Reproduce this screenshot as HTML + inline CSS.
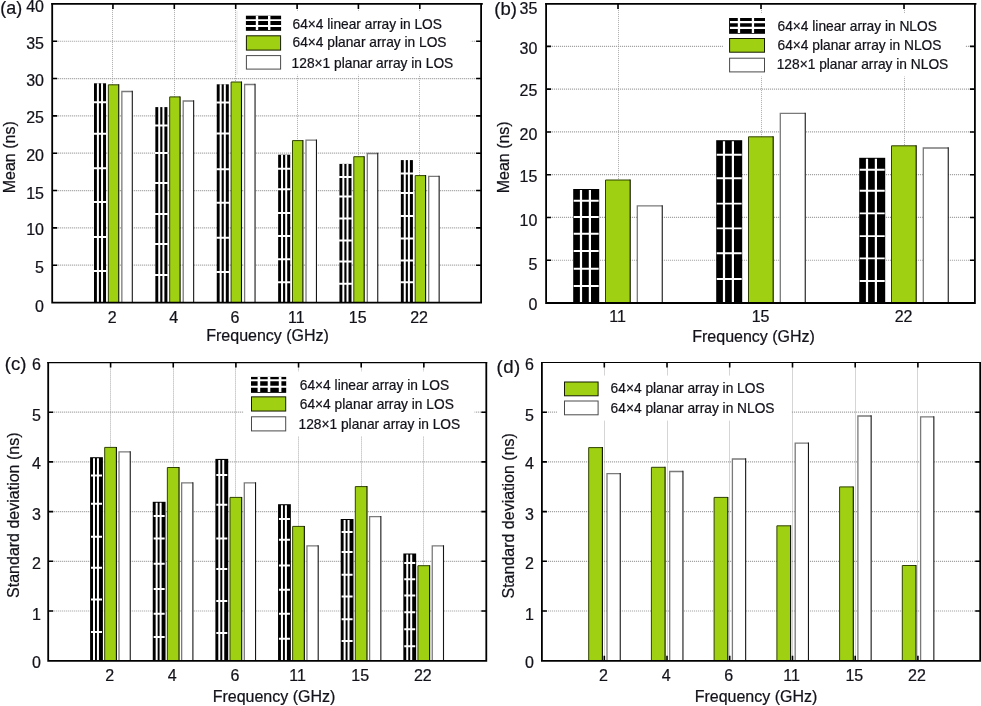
<!DOCTYPE html>
<html lang="en"><head><meta charset="utf-8"><title>Delay spread bar charts</title>
<style>html,body{margin:0;padding:0;background:#fff}svg{display:block}text{stroke:#12121a;stroke-width:.22px}</style>
</head><body>
<svg width="981" height="706" viewBox="0 0 981 706" font-family='"Liberation Sans", sans-serif' fill="#12121a">
<rect width="981" height="706" fill="#fff"/>
<path d="M112.5 3.9V302.6M174.5 3.9V302.6M235.5 3.9V302.6M297.5 3.9V302.6M358.5 3.9V302.6M419.5 3.9V302.6" stroke="#ababab" stroke-width="1" stroke-dasharray="1 1" fill="none"/>
<path d="M52.2 265.18H481.1M52.2 227.85H481.1M52.2 190.53H481.1M52.2 153.2H481.1M52.2 115.88H481.1M52.2 78.55H481.1M52.2 41.23H481.1" stroke="#999" stroke-width="1.2" stroke-dasharray="1 1" fill="none"/>
<path d="M52.2 265.18h5M481.1 265.18h-5M52.2 227.85h5M481.1 227.85h-5M52.2 190.53h5M481.1 190.53h-5M52.2 153.2h5M481.1 153.2h-5M52.2 115.88h5M481.1 115.88h-5M52.2 78.55h5M481.1 78.55h-5M52.2 41.23h5M481.1 41.23h-5M112.95 3.9v5M112.95 302.6v-5M174.3 3.9v5M174.3 302.6v-5M235.7 3.9v5M235.7 302.6v-5M297.1 3.9v5M297.1 302.6v-5M358.4 3.9v5M358.4 302.6v-5M419.8 3.9v5M419.8 302.6v-5" stroke="#000" stroke-width="1.6" fill="none"/>
<rect x="237" y="10.8" width="233.8" height="63.9" fill="#fff"/>
<path d="M237 10.8V74.7" stroke="#e6e6e6" stroke-width="1" fill="none"/>
<rect x="245.9" y="15.7" width="35.2" height="15.1" fill="#000"/>
<path d="M257 15.7V29.9M269.2 15.7V29.9" stroke="#fff" stroke-width="2.4" fill="none"/>
<path d="M245.3 20.1H281.7M245.3 26H281.7" stroke="#fff" stroke-width="1.9" fill="none"/>
<text x="292.5" y="28.9" font-size="13.75" text-anchor="start">64×4 linear array in LOS</text>
<rect x="246.4" y="35.8" width="34.2" height="14.3" fill="#9fd011" stroke="#151a00" stroke-width="1"/>
<text x="292.5" y="47.2" font-size="13.75" text-anchor="start">64×4 planar array in LOS</text>
<rect x="246.4" y="55.6" width="34.2" height="13.5" fill="#fff" stroke="#4a4a4a" stroke-width="1"/>
<text x="291.6" y="67.9" font-size="13.75" text-anchor="start">128×1 planar array in LOS</text>
<rect x="94" y="83.3" width="12.05" height="219.3" fill="#000"/>
<path d="M97.9 83.3V302.6M102.05 83.3V302.6" stroke="#fff" stroke-width="2" fill="none"/>
<path d="M93.6 102.2H106.45M93.6 133.8H106.45M93.6 168.3H106.45M93.6 202H106.45M93.6 237H106.45M93.6 271H106.45" stroke="#fff" stroke-width="2" fill="none"/>
<rect x="108.35" y="84.8" width="10.4" height="217.8" fill="#9fd011"/>
<path d="M108.35 302.6V84.8H118.75" fill="none" stroke="#2f4200" stroke-width="1"/>
<path d="M118.75 84.3V302.6" fill="none" stroke="#0c1000" stroke-width="1.1"/>
<rect x="121.85" y="91.5" width="10.45" height="211.1" fill="#fff"/>
<path d="M121.85 302.6V91.5H132.3" fill="none" stroke="#7a7a7a" stroke-width="1.3"/>
<path d="M132.3 90.85V302.6" fill="none" stroke="#161616" stroke-width="1.1"/>
<rect x="155.35" y="107.1" width="12.05" height="195.5" fill="#000"/>
<path d="M159.25 107.1V302.6M163.4 107.1V302.6" stroke="#fff" stroke-width="2" fill="none"/>
<path d="M154.95 125.5H167.8M154.95 153H167.8M154.95 183H167.8M154.95 214H167.8M154.95 244H167.8M154.95 275H167.8" stroke="#fff" stroke-width="2" fill="none"/>
<rect x="169.7" y="96.9" width="10.4" height="205.7" fill="#9fd011"/>
<path d="M169.7 302.6V96.9H180.1" fill="none" stroke="#2f4200" stroke-width="1"/>
<path d="M180.1 96.4V302.6" fill="none" stroke="#0c1000" stroke-width="1.1"/>
<rect x="183.2" y="101" width="10.45" height="201.6" fill="#fff"/>
<path d="M183.2 302.6V101H193.65" fill="none" stroke="#7a7a7a" stroke-width="1.3"/>
<path d="M193.65 100.35V302.6" fill="none" stroke="#161616" stroke-width="1.1"/>
<rect x="216.75" y="84.3" width="12.05" height="218.3" fill="#000"/>
<path d="M220.65 84.3V302.6M224.8 84.3V302.6" stroke="#fff" stroke-width="2" fill="none"/>
<path d="M216.35 102.6H229.2M216.35 133.6H229.2M216.35 169.3H229.2M216.35 202.7H229.2M216.35 237.7H229.2M216.35 272H229.2" stroke="#fff" stroke-width="2" fill="none"/>
<rect x="231.1" y="82" width="10.4" height="220.6" fill="#9fd011"/>
<path d="M231.1 302.6V82H241.5" fill="none" stroke="#2f4200" stroke-width="1"/>
<path d="M241.5 81.5V302.6" fill="none" stroke="#0c1000" stroke-width="1.1"/>
<rect x="244.6" y="84.5" width="10.45" height="218.1" fill="#fff"/>
<path d="M244.6 302.6V84.5H255.05" fill="none" stroke="#7a7a7a" stroke-width="1.3"/>
<path d="M255.05 83.85V302.6" fill="none" stroke="#161616" stroke-width="1.1"/>
<rect x="278.15" y="154.7" width="12.05" height="147.9" fill="#000"/>
<path d="M282.05 154.7V302.6M286.2 154.7V302.6" stroke="#fff" stroke-width="2" fill="none"/>
<path d="M277.75 168.8H290.6M277.75 189.2H290.6M277.75 212.9H290.6M277.75 235.9H290.6M277.75 259.3H290.6M277.75 282.3H290.6" stroke="#fff" stroke-width="2" fill="none"/>
<rect x="292.5" y="140.6" width="10.4" height="162" fill="#9fd011"/>
<path d="M292.5 302.6V140.6H302.9" fill="none" stroke="#2f4200" stroke-width="1"/>
<path d="M302.9 140.1V302.6" fill="none" stroke="#0c1000" stroke-width="1.1"/>
<rect x="306" y="140.2" width="10.45" height="162.4" fill="#fff"/>
<path d="M306 302.6V140.2H316.45" fill="none" stroke="#7a7a7a" stroke-width="1.3"/>
<path d="M316.45 139.55V302.6" fill="none" stroke="#161616" stroke-width="1.1"/>
<rect x="339.45" y="163.9" width="12.05" height="138.7" fill="#000"/>
<path d="M343.35 163.9V302.6M347.5 163.9V302.6" stroke="#fff" stroke-width="2" fill="none"/>
<path d="M339.05 177H351.9M339.05 196.5H351.9M339.05 218.6H351.9M339.05 240.6H351.9M339.05 261.5H351.9M339.05 283.7H351.9" stroke="#fff" stroke-width="2" fill="none"/>
<rect x="353.8" y="156.7" width="10.4" height="145.9" fill="#9fd011"/>
<path d="M353.8 302.6V156.7H364.2" fill="none" stroke="#2f4200" stroke-width="1"/>
<path d="M364.2 156.2V302.6" fill="none" stroke="#0c1000" stroke-width="1.1"/>
<rect x="367.3" y="153.5" width="10.45" height="149.1" fill="#fff"/>
<path d="M367.3 302.6V153.5H377.75" fill="none" stroke="#7a7a7a" stroke-width="1.3"/>
<path d="M377.75 152.85V302.6" fill="none" stroke="#161616" stroke-width="1.1"/>
<rect x="400.85" y="160.1" width="12.05" height="142.5" fill="#000"/>
<path d="M404.75 160.1V302.6M408.9 160.1V302.6" stroke="#fff" stroke-width="2" fill="none"/>
<path d="M400.45 173.4H413.3M400.45 193H413.3M400.45 216H413.3M400.45 238.4H413.3M400.45 260.6H413.3M400.45 282.3H413.3" stroke="#fff" stroke-width="2" fill="none"/>
<rect x="415.2" y="175.6" width="10.4" height="127" fill="#9fd011"/>
<path d="M415.2 302.6V175.6H425.6" fill="none" stroke="#2f4200" stroke-width="1"/>
<path d="M425.6 175.1V302.6" fill="none" stroke="#0c1000" stroke-width="1.1"/>
<rect x="428.7" y="176.4" width="10.45" height="126.2" fill="#fff"/>
<path d="M428.7 302.6V176.4H439.15" fill="none" stroke="#7a7a7a" stroke-width="1.3"/>
<path d="M439.15 175.75V302.6" fill="none" stroke="#161616" stroke-width="1.1"/>
<path d="M52.2 3V302.6H481.1V3" fill="none" stroke="#000" stroke-width="1.8" stroke-linejoin="miter"/>
<path d="M51.3 3.9H482.8" fill="none" stroke="#000" stroke-width="1.8"/>
<text x="44" y="312" font-size="16" text-anchor="end">0</text>
<text x="44" y="272.8" font-size="16" text-anchor="end">5</text>
<text x="44" y="234.9" font-size="16" text-anchor="end">10</text>
<text x="44" y="199.2" font-size="16" text-anchor="end">15</text>
<text x="44" y="160.8" font-size="16" text-anchor="end">20</text>
<text x="44" y="123.1" font-size="16" text-anchor="end">25</text>
<text x="44" y="86.2" font-size="16" text-anchor="end">30</text>
<text x="44" y="49" font-size="16" text-anchor="end">35</text>
<text x="44" y="12.1" font-size="16" text-anchor="end">40</text>
<text x="112.25" y="323.1" font-size="16" text-anchor="middle">2</text>
<text x="173.6" y="323.1" font-size="16" text-anchor="middle">4</text>
<text x="235" y="323.1" font-size="16" text-anchor="middle">6</text>
<text x="296.4" y="323.1" font-size="16" text-anchor="middle">11</text>
<text x="357.7" y="323.1" font-size="16" text-anchor="middle">15</text>
<text x="419.1" y="323.1" font-size="16" text-anchor="middle">22</text>
<text x="267.6" y="341.4" font-size="16" text-anchor="middle">Frequency (GHz)</text>
<text x="14.8" y="157.3" font-size="16" text-anchor="middle" transform="rotate(-90 14.8 157.3)">Mean (ns)</text>
<text x="0.3" y="13.9" font-size="17.9" text-anchor="start">(a)</text>
<path d="M618.5 3.9V303M761.5 3.9V303M904.5 3.9V303" stroke="#ababab" stroke-width="1" stroke-dasharray="1 1" fill="none"/>
<path d="M546.1 260.24H974.9M546.1 217.47H974.9M546.1 174.7H974.9M546.1 131.94H974.9M546.1 89.17H974.9M546.1 46.41H974.9" stroke="#999" stroke-width="1.2" stroke-dasharray="1 1" fill="none"/>
<path d="M546.1 260.24h5M974.9 260.24h-5M546.1 217.47h5M974.9 217.47h-5M546.1 174.7h5M974.9 174.7h-5M546.1 131.94h5M974.9 131.94h-5M546.1 89.17h5M974.9 89.17h-5M546.1 46.41h5M974.9 46.41h-5M618 3.9v5M618 303v-5M761 3.9v5M761 303v-5M904 3.9v5M904 303v-5" stroke="#000" stroke-width="1.6" fill="none"/>
<rect x="723" y="13.4" width="242" height="63.1" fill="#fff"/>
<rect x="729.1" y="18" width="35.9" height="15.8" fill="#000"/>
<path d="M738.95 18V32.9M752.95 18V32.9" stroke="#fff" stroke-width="2.3" fill="none"/>
<path d="M730 22.05H765M730 27.9H765" stroke="#fff" stroke-width="2.3" fill="none"/>
<text x="777.5" y="30.9" font-size="13.75" text-anchor="start">64×4 linear array in NLOS</text>
<rect x="729.6" y="38.5" width="34.9" height="13.7" fill="#9fd011" stroke="#151a00" stroke-width="1"/>
<text x="777.5" y="50" font-size="13.75" text-anchor="start">64×4 planar array in NLOS</text>
<rect x="729.6" y="58.2" width="34.9" height="13.7" fill="#fff" stroke="#4a4a4a" stroke-width="1"/>
<text x="776.7" y="68.9" font-size="13.75" text-anchor="start">128×1 planar array in NLOS</text>
<rect x="573.2" y="189" width="26" height="114" fill="#000"/>
<path d="M581 190V303M589.9 190V303" stroke="#fff" stroke-width="2.2" fill="none"/>
<path d="M573.7 200.7H598.7M573.7 217H598.7M573.7 233.8H598.7M573.7 251H598.7M573.7 268.7H598.7M573.7 286H598.7" stroke="#fff" stroke-width="1.9" fill="none"/>
<rect x="605.5" y="180" width="24.7" height="123" fill="#9fd011"/>
<path d="M605.5 303V180H630.2" fill="none" stroke="#2f4200" stroke-width="1"/>
<path d="M630.2 179.5V303" fill="none" stroke="#0c1000" stroke-width="1.1"/>
<rect x="637.3" y="205.8" width="24.95" height="97.2" fill="#fff"/>
<path d="M637.3 303V205.8H662.25" fill="none" stroke="#7a7a7a" stroke-width="1.3"/>
<path d="M662.25 205.15V303" fill="none" stroke="#161616" stroke-width="1.1"/>
<rect x="716.2" y="140.2" width="26" height="162.8" fill="#000"/>
<path d="M724 141.2V303M732.9 141.2V303" stroke="#fff" stroke-width="2.2" fill="none"/>
<path d="M716.7 154.8H741.7M716.7 178.3H741.7M716.7 203.6H741.7M716.7 228.4H741.7M716.7 253.3H741.7M716.7 279H741.7" stroke="#fff" stroke-width="1.9" fill="none"/>
<rect x="748.5" y="136.8" width="24.7" height="166.2" fill="#9fd011"/>
<path d="M748.5 303V136.8H773.2" fill="none" stroke="#2f4200" stroke-width="1"/>
<path d="M773.2 136.3V303" fill="none" stroke="#0c1000" stroke-width="1.1"/>
<rect x="780.3" y="113.3" width="24.95" height="189.7" fill="#fff"/>
<path d="M780.3 303V113.3H805.25" fill="none" stroke="#7a7a7a" stroke-width="1.3"/>
<path d="M805.25 112.65V303" fill="none" stroke="#161616" stroke-width="1.1"/>
<rect x="859.2" y="157.8" width="26" height="145.2" fill="#000"/>
<path d="M867 158.8V303M875.9 158.8V303" stroke="#fff" stroke-width="2.2" fill="none"/>
<path d="M859.7 169.8H884.7M859.7 190.8H884.7M859.7 213.4H884.7M859.7 236.1H884.7M859.7 258.4H884.7M859.7 281H884.7" stroke="#fff" stroke-width="1.9" fill="none"/>
<rect x="891.5" y="145.8" width="24.7" height="157.2" fill="#9fd011"/>
<path d="M891.5 303V145.8H916.2" fill="none" stroke="#2f4200" stroke-width="1"/>
<path d="M916.2 145.3V303" fill="none" stroke="#0c1000" stroke-width="1.1"/>
<rect x="923.3" y="148" width="24.95" height="155" fill="#fff"/>
<path d="M923.3 303V148H948.25" fill="none" stroke="#7a7a7a" stroke-width="1.3"/>
<path d="M948.25 147.35V303" fill="none" stroke="#161616" stroke-width="1.1"/>
<path d="M546.1 3V303H974.9V3" fill="none" stroke="#000" stroke-width="1.8" stroke-linejoin="miter"/>
<path d="M545.2 3.9H976.4" fill="none" stroke="#000" stroke-width="1.8"/>
<text x="537.4" y="309.7" font-size="16" text-anchor="end">0</text>
<text x="537.4" y="269.6" font-size="16" text-anchor="end">5</text>
<text x="537.4" y="225.6" font-size="16" text-anchor="end">10</text>
<text x="537.4" y="181.8" font-size="16" text-anchor="end">15</text>
<text x="537.4" y="139.7" font-size="16" text-anchor="end">20</text>
<text x="537.4" y="95.5" font-size="16" text-anchor="end">25</text>
<text x="537.4" y="53.8" font-size="16" text-anchor="end">30</text>
<text x="537.4" y="13.7" font-size="16" text-anchor="end">35</text>
<text x="617.6" y="322.4" font-size="16" text-anchor="middle">11</text>
<text x="760.6" y="322.4" font-size="16" text-anchor="middle">15</text>
<text x="903.6" y="322.4" font-size="16" text-anchor="middle">22</text>
<text x="753.6" y="341.5" font-size="16" text-anchor="middle">Frequency (GHz)</text>
<text x="509.2" y="157.3" font-size="16" text-anchor="middle" transform="rotate(-90 509.2 157.3)">Mean (ns)</text>
<text x="494.3" y="14.8" font-size="18.5" text-anchor="start">(b)</text>
<path d="M110.5 362.6V660.8M173.5 362.6V660.8M235.5 362.6V660.8M298.5 362.6V660.8M361.5 362.6V660.8M423.5 362.6V660.8" stroke="#ababab" stroke-width="1" stroke-dasharray="1 1" fill="none"/>
<path d="M48.2 611H486.3M48.2 561.3H486.3M48.2 511.6H486.3M48.2 461.9H486.3M48.2 412.2H486.3" stroke="#999" stroke-width="1.2" stroke-dasharray="1 1" fill="none"/>
<path d="M48.2 611h5M486.3 611h-5M48.2 561.3h5M486.3 561.3h-5M48.2 511.6h5M486.3 511.6h-5M48.2 461.9h5M486.3 461.9h-5M48.2 412.2h5M486.3 412.2h-5M110.6 362.6v5M110.6 660.8v-5M173.25 362.6v5M173.25 660.8v-5M235.9 362.6v5M235.9 660.8v-5M298.55 362.6v5M298.55 660.8v-5M361.2 362.6v5M361.2 660.8v-5M423.85 362.6v5M423.85 660.8v-5" stroke="#000" stroke-width="1.6" fill="none"/>
<rect x="243.5" y="371.4" width="231" height="64.8" fill="#fff"/>
<rect x="251" y="376.9" width="35.2" height="15.95" fill="#000"/>
<path d="M258.9 376.9V391.95M269 376.9V391.95M280.1 376.9V391.95" stroke="#fff" stroke-width="2.6" fill="none"/>
<path d="M250.4 380.2H286.8M250.4 386.8H286.8" stroke="#fff" stroke-width="2" fill="none"/>
<text x="299.8" y="390" font-size="13.75" text-anchor="start">64×4 linear array in LOS</text>
<rect x="251.5" y="396.85" width="34.2" height="14.2" fill="#9fd011" stroke="#151a00" stroke-width="1"/>
<text x="299.8" y="408.8" font-size="13.75" text-anchor="start">64×4 planar array in LOS</text>
<rect x="251.5" y="416.8" width="34.2" height="14.1" fill="#fff" stroke="#4a4a4a" stroke-width="1"/>
<text x="298.5" y="428.8" font-size="13.75" text-anchor="start">128×1 planar array in LOS</text>
<rect x="90.1" y="457.2" width="12.8" height="203.6" fill="#000"/>
<path d="M94 458.2V660.8M97.95 458.2V660.8" stroke="#fff" stroke-width="2" fill="none"/>
<path d="M91 475.5H102M91 503.8H102M91 536.8H102M91 567.8H102M91 599.6H102M91 632H102" stroke="#fff" stroke-width="2" fill="none"/>
<rect x="104.7" y="447.4" width="11.7" height="213.4" fill="#9fd011"/>
<path d="M104.7 660.8V447.4H116.4" fill="none" stroke="#2f4200" stroke-width="1"/>
<path d="M116.4 446.9V660.8" fill="none" stroke="#0c1000" stroke-width="1.1"/>
<rect x="119" y="451.9" width="11.25" height="208.9" fill="#fff"/>
<path d="M119 660.8V451.9H130.25" fill="none" stroke="#7a7a7a" stroke-width="1.3"/>
<path d="M130.25 451.25V660.8" fill="none" stroke="#161616" stroke-width="1.1"/>
<rect x="152.75" y="501.8" width="12.8" height="159" fill="#000"/>
<path d="M156.65 502.8V660.8M160.6 502.8V660.8" stroke="#fff" stroke-width="2" fill="none"/>
<path d="M153.65 516H164.65M153.65 538.4H164.65M153.65 563.8H164.65M153.65 589H164.65M153.65 613.8H164.65M153.65 637H164.65" stroke="#fff" stroke-width="2" fill="none"/>
<rect x="167.35" y="467.5" width="11.7" height="193.3" fill="#9fd011"/>
<path d="M167.35 660.8V467.5H179.05" fill="none" stroke="#2f4200" stroke-width="1"/>
<path d="M179.05 467V660.8" fill="none" stroke="#0c1000" stroke-width="1.1"/>
<rect x="181.65" y="482.9" width="11.25" height="177.9" fill="#fff"/>
<path d="M181.65 660.8V482.9H192.9" fill="none" stroke="#7a7a7a" stroke-width="1.3"/>
<path d="M192.9 482.25V660.8" fill="none" stroke="#161616" stroke-width="1.1"/>
<rect x="215.4" y="458.9" width="12.8" height="201.9" fill="#000"/>
<path d="M219.3 459.9V660.8M223.25 459.9V660.8" stroke="#fff" stroke-width="2" fill="none"/>
<path d="M216.3 475H227.3M216.3 504.8H227.3M216.3 538.6H227.3M216.3 569H227.3M216.3 601H227.3M216.3 633H227.3" stroke="#fff" stroke-width="2" fill="none"/>
<rect x="230" y="497.4" width="11.7" height="163.4" fill="#9fd011"/>
<path d="M230 660.8V497.4H241.7" fill="none" stroke="#2f4200" stroke-width="1"/>
<path d="M241.7 496.9V660.8" fill="none" stroke="#0c1000" stroke-width="1.1"/>
<rect x="244.3" y="482.9" width="11.25" height="177.9" fill="#fff"/>
<path d="M244.3 660.8V482.9H255.55" fill="none" stroke="#7a7a7a" stroke-width="1.3"/>
<path d="M255.55 482.25V660.8" fill="none" stroke="#161616" stroke-width="1.1"/>
<rect x="278.05" y="504.2" width="12.8" height="156.6" fill="#000"/>
<path d="M281.95 505.2V660.8M285.9 505.2V660.8" stroke="#fff" stroke-width="2" fill="none"/>
<path d="M278.95 519H289.95M278.95 539.8H289.95M278.95 565.6H289.95M278.95 589.8H289.95M278.95 613.8H289.95M278.95 638.8H289.95" stroke="#fff" stroke-width="2" fill="none"/>
<rect x="292.65" y="526.4" width="11.7" height="134.4" fill="#9fd011"/>
<path d="M292.65 660.8V526.4H304.35" fill="none" stroke="#2f4200" stroke-width="1"/>
<path d="M304.35 525.9V660.8" fill="none" stroke="#0c1000" stroke-width="1.1"/>
<rect x="306.95" y="545.9" width="11.25" height="114.9" fill="#fff"/>
<path d="M306.95 660.8V545.9H318.2" fill="none" stroke="#7a7a7a" stroke-width="1.3"/>
<path d="M318.2 545.25V660.8" fill="none" stroke="#161616" stroke-width="1.1"/>
<rect x="340.7" y="519" width="12.8" height="141.8" fill="#000"/>
<path d="M344.6 520V660.8M348.55 520V660.8" stroke="#fff" stroke-width="2" fill="none"/>
<path d="M341.6 532H352.6M341.6 552.1H352.6M341.6 574.8H352.6M341.6 596.6H352.6M341.6 619.2H352.6M341.6 641H352.6" stroke="#fff" stroke-width="2" fill="none"/>
<rect x="355.3" y="486.6" width="11.7" height="174.2" fill="#9fd011"/>
<path d="M355.3 660.8V486.6H367" fill="none" stroke="#2f4200" stroke-width="1"/>
<path d="M367 486.1V660.8" fill="none" stroke="#0c1000" stroke-width="1.1"/>
<rect x="369.6" y="516.6" width="11.25" height="144.2" fill="#fff"/>
<path d="M369.6 660.8V516.6H380.85" fill="none" stroke="#7a7a7a" stroke-width="1.3"/>
<path d="M380.85 515.95V660.8" fill="none" stroke="#161616" stroke-width="1.1"/>
<rect x="403.35" y="553.5" width="12.8" height="107.3" fill="#000"/>
<path d="M407.25 554.5V660.8M411.2 554.5V660.8" stroke="#fff" stroke-width="2" fill="none"/>
<path d="M404.25 563H415.25M404.25 579.2H415.25M404.25 595.6H415.25M404.25 612.2H415.25M404.25 629.3H415.25M404.25 646.3H415.25" stroke="#fff" stroke-width="2" fill="none"/>
<rect x="417.95" y="565.7" width="11.7" height="95.1" fill="#9fd011"/>
<path d="M417.95 660.8V565.7H429.65" fill="none" stroke="#2f4200" stroke-width="1"/>
<path d="M429.65 565.2V660.8" fill="none" stroke="#0c1000" stroke-width="1.1"/>
<rect x="432.25" y="545.9" width="11.25" height="114.9" fill="#fff"/>
<path d="M432.25 660.8V545.9H443.5" fill="none" stroke="#7a7a7a" stroke-width="1.3"/>
<path d="M443.5 545.25V660.8" fill="none" stroke="#161616" stroke-width="1.1"/>
<path d="M48.2 362V660.8H486.3V362" fill="none" stroke="#000" stroke-width="1.8" stroke-linejoin="miter"/>
<path d="M47.3 362.6H487.2" fill="none" stroke="#000" stroke-width="1.2"/>
<text x="40.8" y="667.8" font-size="16" text-anchor="end">0</text>
<text x="40.8" y="619.7" font-size="16" text-anchor="end">1</text>
<text x="40.8" y="568.8" font-size="16" text-anchor="end">2</text>
<text x="40.8" y="519.7" font-size="16" text-anchor="end">3</text>
<text x="40.8" y="469.4" font-size="16" text-anchor="end">4</text>
<text x="40.8" y="420.8" font-size="16" text-anchor="end">5</text>
<text x="40.8" y="369.8" font-size="16" text-anchor="end">6</text>
<text x="109.6" y="680.8" font-size="16" text-anchor="middle">2</text>
<text x="172.25" y="680.8" font-size="16" text-anchor="middle">4</text>
<text x="234.9" y="680.8" font-size="16" text-anchor="middle">6</text>
<text x="297.55" y="680.8" font-size="16" text-anchor="middle">11</text>
<text x="360.2" y="680.8" font-size="16" text-anchor="middle">15</text>
<text x="422.85" y="680.8" font-size="16" text-anchor="middle">22</text>
<text x="274" y="701.6" font-size="16" text-anchor="middle">Frequency (GHz)</text>
<text x="19.5" y="515.2" font-size="16" text-anchor="middle" transform="rotate(-90 19.5 515.2)">Standard deviation (ns)</text>
<text x="4.8" y="369.6" font-size="18.5" text-anchor="start">(c)</text>
<path d="M604.5 362.5V660.8M667.5 362.5V660.8M729.5 362.5V660.8M792.5 362.5V660.8M855.5 362.5V660.8M917.5 362.5V660.8" stroke="#ababab" stroke-width="1" stroke-dasharray="1 1" fill="none"/>
<path d="M541.9 611H980.2M541.9 561.3H980.2M541.9 511.6H980.2M541.9 461.9H980.2M541.9 412.2H980.2" stroke="#999" stroke-width="1.2" stroke-dasharray="1 1" fill="none"/>
<path d="M541.9 611h5M980.2 611h-5M541.9 561.3h5M980.2 561.3h-5M541.9 511.6h5M980.2 511.6h-5M541.9 461.9h5M980.2 461.9h-5M541.9 412.2h5M980.2 412.2h-5M604.3 362.5v5M604.3 660.8v-5M667 362.5v5M667 660.8v-5M729.7 362.5v5M729.7 660.8v-5M792.5 362.5v5M792.5 660.8v-5M855.2 362.5v5M855.2 660.8v-5M917.9 362.5v5M917.9 660.8v-5" stroke="#000" stroke-width="1.6" fill="none"/>
<rect x="557" y="375.6" width="234" height="45" fill="#fff"/>
<rect x="564.5" y="382" width="33.6" height="13.8" fill="#9fd011" stroke="#151a00" stroke-width="1"/>
<text x="610.6" y="392.9" font-size="13.75" text-anchor="start">64×4 planar array in LOS</text>
<rect x="564.5" y="401" width="33.6" height="13.8" fill="#fff" stroke="#4a4a4a" stroke-width="1"/>
<text x="610.6" y="413" font-size="13.75" text-anchor="start">64×4 planar array in NLOS</text>
<rect x="588.7" y="447.6" width="13.7" height="213.2" fill="#9fd011"/>
<path d="M588.7 660.8V447.6H602.4" fill="none" stroke="#2f4200" stroke-width="1"/>
<path d="M602.4 447.1V660.8" fill="none" stroke="#0c1000" stroke-width="1.1"/>
<rect x="607" y="473.6" width="13.25" height="187.2" fill="#fff"/>
<path d="M607 660.8V473.6H620.25" fill="none" stroke="#7a7a7a" stroke-width="1.3"/>
<path d="M620.25 472.95V660.8" fill="none" stroke="#161616" stroke-width="1.1"/>
<rect x="651.4" y="467.3" width="13.7" height="193.5" fill="#9fd011"/>
<path d="M651.4 660.8V467.3H665.1" fill="none" stroke="#2f4200" stroke-width="1"/>
<path d="M665.1 466.8V660.8" fill="none" stroke="#0c1000" stroke-width="1.1"/>
<rect x="669.7" y="471.5" width="13.25" height="189.3" fill="#fff"/>
<path d="M669.7 660.8V471.5H682.95" fill="none" stroke="#7a7a7a" stroke-width="1.3"/>
<path d="M682.95 470.85V660.8" fill="none" stroke="#161616" stroke-width="1.1"/>
<rect x="714.1" y="497.4" width="13.7" height="163.4" fill="#9fd011"/>
<path d="M714.1 660.8V497.4H727.8" fill="none" stroke="#2f4200" stroke-width="1"/>
<path d="M727.8 496.9V660.8" fill="none" stroke="#0c1000" stroke-width="1.1"/>
<rect x="732.4" y="459" width="13.25" height="201.8" fill="#fff"/>
<path d="M732.4 660.8V459H745.65" fill="none" stroke="#7a7a7a" stroke-width="1.3"/>
<path d="M745.65 458.35V660.8" fill="none" stroke="#161616" stroke-width="1.1"/>
<rect x="776.9" y="525.8" width="13.7" height="135" fill="#9fd011"/>
<path d="M776.9 660.8V525.8H790.6" fill="none" stroke="#2f4200" stroke-width="1"/>
<path d="M790.6 525.3V660.8" fill="none" stroke="#0c1000" stroke-width="1.1"/>
<rect x="795.2" y="443.1" width="13.25" height="217.7" fill="#fff"/>
<path d="M795.2 660.8V443.1H808.45" fill="none" stroke="#7a7a7a" stroke-width="1.3"/>
<path d="M808.45 442.45V660.8" fill="none" stroke="#161616" stroke-width="1.1"/>
<rect x="839.6" y="486.9" width="13.7" height="173.9" fill="#9fd011"/>
<path d="M839.6 660.8V486.9H853.3" fill="none" stroke="#2f4200" stroke-width="1"/>
<path d="M853.3 486.4V660.8" fill="none" stroke="#0c1000" stroke-width="1.1"/>
<rect x="857.9" y="416" width="13.25" height="244.8" fill="#fff"/>
<path d="M857.9 660.8V416H871.15" fill="none" stroke="#7a7a7a" stroke-width="1.3"/>
<path d="M871.15 415.35V660.8" fill="none" stroke="#161616" stroke-width="1.1"/>
<rect x="902.3" y="565.5" width="13.7" height="95.3" fill="#9fd011"/>
<path d="M902.3 660.8V565.5H916" fill="none" stroke="#2f4200" stroke-width="1"/>
<path d="M916 565V660.8" fill="none" stroke="#0c1000" stroke-width="1.1"/>
<rect x="920.6" y="416.8" width="13.25" height="244" fill="#fff"/>
<path d="M920.6 660.8V416.8H933.85" fill="none" stroke="#7a7a7a" stroke-width="1.3"/>
<path d="M933.85 416.15V660.8" fill="none" stroke="#161616" stroke-width="1.1"/>
<path d="M541.9 361.9V660.8H980.2V361.9" fill="none" stroke="#000" stroke-width="1.8" stroke-linejoin="miter"/>
<path d="M541 362.5H981.1" fill="none" stroke="#000" stroke-width="1.2"/>
<text x="534" y="667.8" font-size="16" text-anchor="end">0</text>
<text x="534" y="619.7" font-size="16" text-anchor="end">1</text>
<text x="534" y="568.8" font-size="16" text-anchor="end">2</text>
<text x="534" y="519.7" font-size="16" text-anchor="end">3</text>
<text x="534" y="469.4" font-size="16" text-anchor="end">4</text>
<text x="534" y="420.8" font-size="16" text-anchor="end">5</text>
<text x="534" y="369.7" font-size="16" text-anchor="end">6</text>
<text x="603.4" y="680.6" font-size="16" text-anchor="middle">2</text>
<text x="666.1" y="680.6" font-size="16" text-anchor="middle">4</text>
<text x="728.8" y="680.6" font-size="16" text-anchor="middle">6</text>
<text x="791.6" y="680.6" font-size="16" text-anchor="middle">11</text>
<text x="854.3" y="680.6" font-size="16" text-anchor="middle">15</text>
<text x="917" y="680.6" font-size="16" text-anchor="middle">22</text>
<text x="756" y="702" font-size="16" text-anchor="middle">Frequency (GHz)</text>
<text x="514.5" y="515.8" font-size="16" text-anchor="middle" transform="rotate(-90 514.5 515.8)">Standard deviation (ns)</text>
<text x="496.6" y="372.5" font-size="18.6" text-anchor="start" letter-spacing="0.4">(d)</text>
</svg>
</body></html>
